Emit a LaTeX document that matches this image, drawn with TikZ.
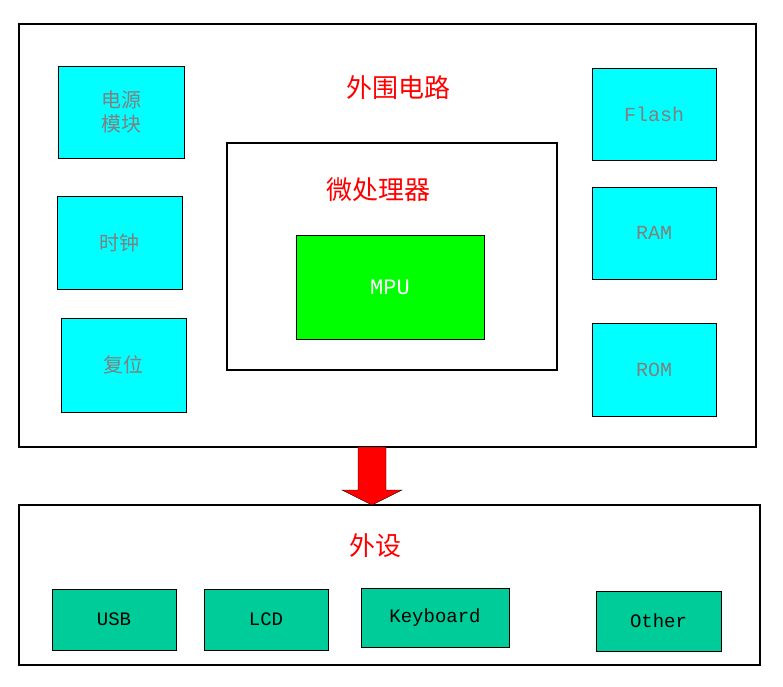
\documentclass[tikz,border=0pt]{standalone}
\usepackage{fontspec}
\setmonofont{Liberation Mono}
\newfontfamily\cjk{Noto Sans CJK SC}
\usetikzlibrary{positioning}
\definecolor{cybox}{RGB}{0,255,255}
\definecolor{tealbox}{RGB}{0,204,153}
\definecolor{mpugreen}{RGB}{0,255,0}
\tikzset{
  frame/.style={draw=black,line width=1.6pt},
  part/.style={draw=black,fill=cybox,text=gray,font=\cjk\fontsize{20}{24}\selectfont,align=center},
  mem/.style={draw=black,fill=cybox,text=gray,font=\ttfamily\fontsize{20}{24}\selectfont},
  dev/.style={draw=black,fill=tealbox,text=black,font=\ttfamily\fontsize{19}{22}\selectfont},
  title/.style={text=red,font=\cjk\fontsize{26}{30}\selectfont}
}
\begin{document}
\begin{tikzpicture}[x=1pt,y=-1pt]
\useasboundingbox (0,0) rectangle (783,686);
% outer frames
\draw[frame] (19,24) rectangle (756,447);
\draw[frame] (227,143) rectangle (557,370);
\draw[frame] (19,505) rectangle (760,665);
\node[title] (periph) at (398,88) {外围电路};
\node[title] (cpu) at (378,190) {微处理器};
\node[title] (ext) at (375,546) {外设};
% left parts
\draw[part] (58,66) rectangle (184,158) node[midway] (power) {电源\\模块};
\draw[part] (57,196) rectangle (182,289) node[midway] (clock) {时钟};
\draw[part] (61,318) rectangle (186,412) node[midway] (reset) {复位};
% memories
\draw[mem] (592,68) rectangle (716,160) node[midway] (flash) {Flash};
\draw[mem] (592,187) rectangle (716,279) node[midway] (ram) {RAM};
\draw[mem] (592,323) rectangle (716,416) node[midway] (rom) {ROM};
% core
\draw[fill=mpugreen,draw=black] (296,235) rectangle (484,339) node[midway,text=white,font=\ttfamily\fontsize{22}{26}\selectfont] (mpu) {MPU};
% arrow
\draw[fill=red,draw=black] (358,447) -- (386,447) -- (386,490) -- (402,490) -- (372,505) -- (342,490) -- (358,490) -- cycle;
% devices
\draw[dev] (52,589) rectangle (176,650) node[midway] (usb) {USB};
\draw[dev] (204,589) rectangle (328,650) node[midway] (lcd) {LCD};
\draw[dev] (361,588) rectangle (509,647) node[midway] (kbd) {Keyboard};
\draw[dev] (596,591) rectangle (721,651) node[midway] (other) {Other};
\end{tikzpicture}
\end{document}
